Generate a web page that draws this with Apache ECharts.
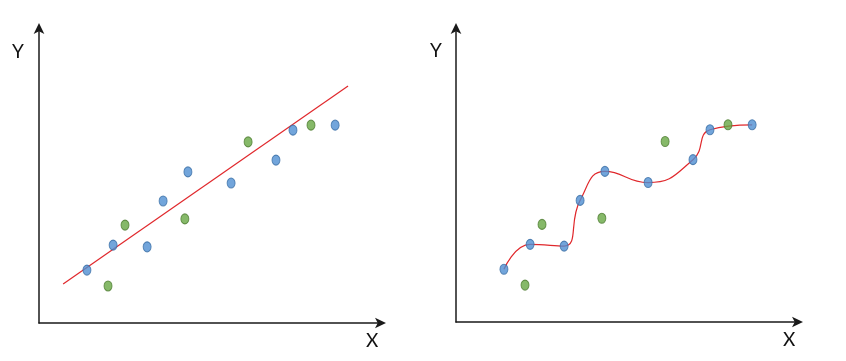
<!DOCTYPE html>
<html>
<head>
<meta charset="utf-8">
<script src="https://cdn.jsdelivr.net/npm/echarts@6/dist/echarts.min.js"></script>
<style>html,body{margin:0;padding:0;background:#fff}#c{width:846px;height:361px}</style>
</head>
<body>
<div id="c"></div>
<script>
// Data (same observations in both panels)
var blueX = [1.41, 2.18, 3.18, 3.65, 4.38, 5.65, 6.97, 7.47, 8.71];
var blueY = [1.80, 2.65, 2.59, 4.15, 5.14, 4.76, 5.54, 6.56, 6.73];
var greenX = [2.03, 2.53, 4.29, 6.15, 8.00];
var greenY = [1.26, 3.33, 3.54, 6.16, 6.73];
var fitX = [0.71, 9.09];
var fitY = [1.33, 8.06];
var axisNames = ['X', 'Y'];

function pairs(xs, ys) { return xs.map(function (x, i) { return [x, ys[i]]; }); }

var chart = echarts.init(document.getElementById('c'), null, {renderer: 'canvas'});

function axisLine() {
  return {show: true, onZero: false, symbol: ['none', 'arrow'], symbolSize: [8, 11], symbolOffset: [0, 4],
    lineStyle: {color: '#1a1a1a', width: 1.5}};
}
function xAx(i, max) {
  return {gridIndex: i, type: 'value', min: 0, max: max, axisLine: axisLine(), axisTick: {show: false},
    axisLabel: {show: false}, splitLine: {show: false}};
}
function yAx(i, max) {
  return {gridIndex: i, type: 'value', min: 0, max: max, axisLine: axisLine(), axisTick: {show: false},
    axisLabel: {show: false}, splitLine: {show: false}};
}
var blueStyle = {color: '#4F8FD2', borderColor: '#3A6EA5', borderWidth: 1};
var greenStyle = {color: '#68A844', borderColor: '#4C7C30', borderWidth: 1};
function pts(i, xs, ys, style) {
  return {type: 'scatter', xAxisIndex: i, yAxisIndex: i, data: pairs(xs, ys), symbol: 'circle',
    symbolSize: [8, 10], itemStyle: style, z: 5, silent: true};
}
var textStyle = {fontFamily: 'Lato', fontSize: 19, fill: '#111'};

chart.setOption({
  animation: false,
  grid: [
    {left: 39, top: 27, width: 343, height: 296},
    {left: 456, top: 27, width: 343, height: 295}
  ],
  xAxis: [xAx(0, 343 / 34), xAx(1, 343 / 34)],
  yAxis: [yAx(0, 296 / 29.4), yAx(1, 295 / 29.3)],
  graphic: [
    {type: 'text', left: 12, top: 42, style: Object.assign({text: axisNames[1]}, textStyle)},
    {type: 'text', left: 366, top: 331, style: Object.assign({text: axisNames[0]}, textStyle)},
    {type: 'text', left: 430, top: 41, style: Object.assign({text: axisNames[1]}, textStyle)},
    {type: 'text', left: 783, top: 330, style: Object.assign({text: axisNames[0]}, textStyle)}
  ],
  series: [
    {type: 'line', xAxisIndex: 0, yAxisIndex: 0, data: pairs(fitX, fitY), showSymbol: false,
      lineStyle: {color: '#E0282C', width: 1.2}, z: 2, silent: true},
    pts(0, blueX, blueY, blueStyle),
    pts(0, greenX, greenY, greenStyle),
    {type: 'line', xAxisIndex: 1, yAxisIndex: 1, data: pairs(blueX, blueY), showSymbol: false, smooth: 0.5,
      lineStyle: {color: '#E0282C', width: 1.2}, z: 2, silent: true},
    pts(1, blueX, blueY, blueStyle),
    pts(1, greenX, greenY, greenStyle)
  ]
});
</script>
</body>
</html>
